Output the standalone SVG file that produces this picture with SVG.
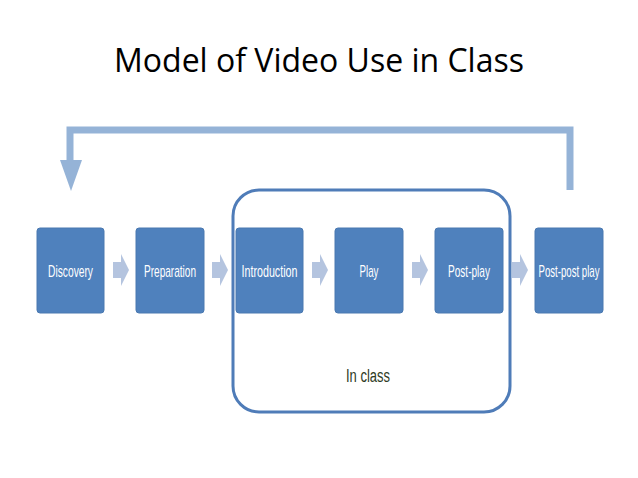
<svg xmlns="http://www.w3.org/2000/svg" width="638" height="478" viewBox="0 0 638 478">
<style>
.n rect{fill:#4f81bd;stroke:#4a78b0;stroke-width:1}
.n text{font-family:"Liberation Sans Narrow","Liberation Sans",sans-serif;font-size:17px;fill:#fff;text-anchor:middle}
.a{fill:#b4c4df}
</style>
<rect width="638" height="478" fill="#fff"/>
<text x="319" y="72" font-family="Open Sans, Liberation Sans, sans-serif" font-size="32" text-anchor="middle" fill="#000">Model of Video Use in Class</text>
<g id="inclass">
<rect x="233" y="190" width="277" height="222" rx="26" fill="none" stroke="#4f7cb8" stroke-width="3"/>
<text x="368" y="382" font-family="Liberation Sans, sans-serif" font-size="18" text-anchor="middle" fill="#2e3b24" textLength="44" lengthAdjust="spacingAndGlyphs">In class</text>
</g>
<g id="connectors">
<path d="M570 190 V130 H70 V162" fill="none" stroke="#95b3d7" stroke-width="7"/>
<polygon points="60,160 82,160 71,191" fill="#95b3d7"/>
<polygon class="a" points="113,262 121,262 121,254 129,270 121,286 121,278 113,278"/>
<polygon class="a" points="212,262 220,262 220,254 228,270 220,286 220,278 212,278"/>
<polygon class="a" points="312,262 320,262 320,254 328,270 320,286 320,278 312,278"/>
<polygon class="a" points="412,262 420,262 420,254 428,270 420,286 420,278 412,278"/>
<polygon class="a" points="512,262 520,262 520,254 528,270 520,286 520,278 512,278"/>
</g>
<g id="discovery" class="n"><rect x="37" y="228" width="67" height="85" rx="3"/><text x="70.5" y="277" textLength="45" lengthAdjust="spacingAndGlyphs">Discovery</text></g>
<g id="preparation" class="n"><rect x="136" y="228" width="68" height="85" rx="3"/><text x="170" y="277" textLength="52" lengthAdjust="spacingAndGlyphs">Preparation</text></g>
<g id="introduction" class="n"><rect x="236" y="228" width="67" height="85" rx="3"/><text x="269.5" y="277" textLength="56" lengthAdjust="spacingAndGlyphs">Introduction</text></g>
<g id="play" class="n"><rect x="335" y="228" width="68" height="85" rx="3"/><text x="369" y="277" textLength="19" lengthAdjust="spacingAndGlyphs">Play</text></g>
<g id="postplay" class="n"><rect x="435" y="228" width="68" height="85" rx="3"/><text x="469" y="277" textLength="42" lengthAdjust="spacingAndGlyphs">Post-play</text></g>
<g id="postpostplay" class="n"><rect x="535" y="228" width="68" height="85" rx="3"/><text x="569" y="277" textLength="61" lengthAdjust="spacingAndGlyphs">Post-post play</text></g>
</svg>
